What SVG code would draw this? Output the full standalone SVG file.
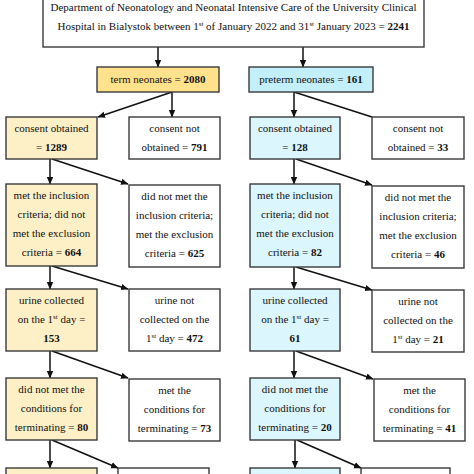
<svg xmlns="http://www.w3.org/2000/svg" width="474" height="474" viewBox="0 0 474 474">
<style>
.bx{stroke:#3a3a3a;stroke-width:1.4}
.w{fill:#ffffff}
.ty{fill:#ffe38c}
.tb{fill:#c3effb}
.ly{fill:#fdf0c6}
.lb{fill:#dcf6fd}
text{font-family:"Liberation Serif","Times New Roman",serif;font-size:11px;fill:#111;text-anchor:middle}
.b{font-weight:bold}
.s{font-size:7px}
.c{stroke:#111;stroke-width:1.5;fill:none}
</style>
<defs>
<marker id="ah" markerUnits="userSpaceOnUse" markerWidth="8" markerHeight="8" viewBox="0 0 8 8" refX="7" refY="4" orient="auto">
<path d="M0,0.8 L7.5,4 L0,7.2 Z" fill="#111"/>
</marker>
</defs>
<rect width="474" height="474" fill="#ffffff"/>
<g id="connectors">
<line class="c" x1="158" y1="47" x2="158" y2="67" marker-end="url(#ah)"/>
<line class="c" x1="303" y1="47" x2="303" y2="67" marker-end="url(#ah)"/>
<line class="c" x1="172" y1="92" x2="98" y2="117" marker-end="url(#ah)"/>
<line class="c" x1="172" y1="92" x2="172" y2="117" marker-end="url(#ah)"/>
<line class="c" x1="294" y1="92" x2="294" y2="117" marker-end="url(#ah)"/>
<line class="c" x1="294" y1="92" x2="372" y2="117"/>
<line class="c" x1="50" y1="159" x2="50" y2="184" marker-end="url(#ah)"/>
<line class="c" x1="52" y1="159" x2="128" y2="184" marker-end="url(#ah)"/>
<line class="c" x1="294" y1="159" x2="294" y2="184" marker-end="url(#ah)"/>
<line class="c" x1="296" y1="159" x2="372" y2="185" marker-end="url(#ah)"/>
<line class="c" x1="50" y1="266" x2="50" y2="289" marker-end="url(#ah)"/>
<line class="c" x1="52" y1="266" x2="128" y2="289" marker-end="url(#ah)"/>
<line class="c" x1="294" y1="267" x2="294" y2="289" marker-end="url(#ah)"/>
<line class="c" x1="296" y1="267" x2="372" y2="290" marker-end="url(#ah)"/>
<line class="c" x1="50" y1="351" x2="50" y2="378" marker-end="url(#ah)"/>
<line class="c" x1="52" y1="351" x2="128" y2="378" marker-end="url(#ah)"/>
<line class="c" x1="294" y1="351" x2="294" y2="378" marker-end="url(#ah)"/>
<line class="c" x1="296" y1="351" x2="373" y2="379" marker-end="url(#ah)"/>
<line class="c" x1="50" y1="440" x2="50" y2="468" marker-end="url(#ah)"/>
<line class="c" x1="52" y1="440" x2="118" y2="468" marker-end="url(#ah)"/>
<line class="c" x1="295" y1="440" x2="295" y2="468" marker-end="url(#ah)"/>
<line class="c" x1="297" y1="440" x2="361" y2="468" marker-end="url(#ah)"/>
</g>
<g id="top">
<rect class="bx w" x="43" y="-20" width="381" height="67"/>
<text x="233.5" y="11">Department of Neonatology and Neonatal Intensive Care of the University Clinical</text>
<text x="233.5" y="30">Hospital in Bialystok between 1<tspan class="s" dy="-4">st</tspan><tspan dy="4"> of January 2022 and 31</tspan><tspan class="s" dy="-4">st</tspan><tspan dy="4"> January 2023 = </tspan><tspan class="b">2241</tspan></text>
</g>
<g id="term">
<rect class="bx ty" x="97" y="67" width="122" height="25"/>
<text x="158" y="83">term neonates = <tspan class="b">2080</tspan></text>
</g>
<g id="preterm">
<rect class="bx tb" x="249" y="67" width="124" height="25"/>
<text x="311" y="83">preterm neonates = <tspan class="b">161</tspan></text>
</g>
<g id="t-consent">
<rect class="bx ly" x="6" y="117" width="91" height="42"/>
<text x="51.5" y="132">consent obtained</text>
<text x="51.5" y="151">= <tspan class="b">1289</tspan></text>
</g>
<g id="t-noconsent">
<rect class="bx w" x="129" y="117" width="91" height="42"/>
<text x="174.5" y="132">consent not</text>
<text x="174.5" y="151">obtained = <tspan class="b">791</tspan></text>
</g>
<g id="p-consent">
<rect class="bx lb" x="250" y="117" width="90" height="42"/>
<text x="295" y="132">consent obtained</text>
<text x="295" y="151">= <tspan class="b">128</tspan></text>
</g>
<g id="p-noconsent">
<rect class="bx w" x="372" y="117" width="92" height="42"/>
<text x="418" y="132">consent not</text>
<text x="418" y="151">obtained = <tspan class="b">33</tspan></text>
</g>
<g id="t-incl">
<rect class="bx ly" x="6" y="184" width="91" height="82"/>
<text x="51.5" y="199">met the inclusion</text>
<text x="51.5" y="218">criteria; did not</text>
<text x="51.5" y="237">met the exclusion</text>
<text x="51.5" y="256">criteria = <tspan class="b">664</tspan></text>
</g>
<g id="t-excl">
<rect class="bx w" x="129" y="185" width="91" height="82"/>
<text x="174.5" y="200">did not met the</text>
<text x="174.5" y="219">inclusion criteria;</text>
<text x="174.5" y="238">met the exclusion</text>
<text x="174.5" y="257">criteria = <tspan class="b">625</tspan></text>
</g>
<g id="p-incl">
<rect class="bx lb" x="250" y="184" width="90" height="83"/>
<text x="295" y="199">met the inclusion</text>
<text x="295" y="218">criteria; did not</text>
<text x="295" y="237">met the exclusion</text>
<text x="295" y="256">criteria = <tspan class="b">82</tspan></text>
</g>
<g id="p-excl">
<rect class="bx w" x="372" y="186" width="92" height="82"/>
<text x="418" y="201">did not met the</text>
<text x="418" y="220">inclusion criteria;</text>
<text x="418" y="239">met the exclusion</text>
<text x="418" y="258">criteria = <tspan class="b">46</tspan></text>
</g>
<g id="t-urine">
<rect class="bx ly" x="6" y="289" width="91" height="62"/>
<text x="51.5" y="304">urine collected</text>
<text x="51.5" y="323">on the 1<tspan class="s" dy="-4">st</tspan><tspan dy="4"> day =</tspan></text>
<text x="51.5" y="342" class="b">153</text>
</g>
<g id="t-nourine">
<rect class="bx w" x="129" y="289" width="91" height="62"/>
<text x="174.5" y="304">urine not</text>
<text x="174.5" y="323">collected on the</text>
<text x="174.5" y="342">1<tspan class="s" dy="-4">st</tspan><tspan dy="4"> day = </tspan><tspan class="b">472</tspan></text>
</g>
<g id="p-urine">
<rect class="bx lb" x="250" y="289" width="90" height="62"/>
<text x="295" y="304">urine collected</text>
<text x="295" y="323">on the 1<tspan class="s" dy="-4">st</tspan><tspan dy="4"> day =</tspan></text>
<text x="295" y="342" class="b">61</text>
</g>
<g id="p-nourine">
<rect class="bx w" x="372" y="290" width="92" height="62"/>
<text x="418" y="305">urine not</text>
<text x="418" y="324">collected on the</text>
<text x="418" y="343">1<tspan class="s" dy="-4">st</tspan><tspan dy="4"> day = </tspan><tspan class="b">21</tspan></text>
</g>
<g id="t-noterm">
<rect class="bx ly" x="6" y="378" width="91" height="62"/>
<text x="51.5" y="393">did not met the</text>
<text x="51.5" y="412">conditions for</text>
<text x="51.5" y="431">terminating = <tspan class="b">80</tspan></text>
</g>
<g id="t-term">
<rect class="bx w" x="129" y="379" width="91" height="62"/>
<text x="174.5" y="394">met the</text>
<text x="174.5" y="413">conditions for</text>
<text x="174.5" y="432">terminating = <tspan class="b">73</tspan></text>
</g>
<g id="p-noterm">
<rect class="bx lb" x="250" y="378" width="90" height="62"/>
<text x="295" y="393">did not met the</text>
<text x="295" y="412">conditions for</text>
<text x="295" y="431">terminating = <tspan class="b">20</tspan></text>
</g>
<g id="p-term">
<rect class="bx w" x="374" y="379" width="91" height="62"/>
<text x="419.5" y="394">met the</text>
<text x="419.5" y="413">conditions for</text>
<text x="419.5" y="432">terminating = <tspan class="b">41</tspan></text>
</g>
<g id="t-row6a"><rect class="bx ly" x="6" y="468" width="91" height="30"/></g>
<g id="t-row6b"><rect class="bx w" x="118" y="468" width="91" height="30"/></g>
<g id="p-row6a"><rect class="bx lb" x="250" y="468" width="90" height="30"/></g>
<g id="p-row6b"><rect class="bx w" x="361" y="468" width="89" height="30"/></g>
</svg>
